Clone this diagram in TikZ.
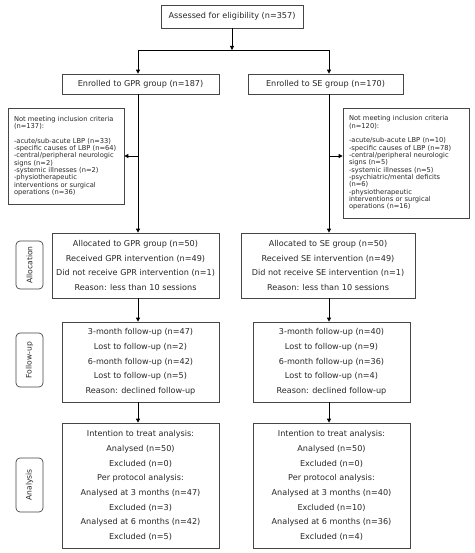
\documentclass[tikz,border=0pt]{standalone}
\usepackage{fontspec}
\setmainfont{DejaVu Sans}
\usetikzlibrary{arrows.meta}
\definecolor{ink}{RGB}{40,40,40}
\definecolor{edge}{RGB}{70,70,70}
\begin{document}
\begin{tikzpicture}[x=1pt,y=-1pt,
  box/.style={draw=edge,line width=0.7pt,rectangle,inner sep=0pt,align=center,text=ink,
     font=\fontsize{8.1}{14.7}\selectfont},
  exbox/.style={draw=edge,line width=0.7pt,rectangle,inner xsep=6pt,inner ysep=0pt,align=left,text=ink,
     font=\fontsize{6.7}{7.35}\selectfont},
  side/.style={draw=edge,line width=0.7pt,rounded corners=4pt,inner sep=0pt,minimum width=27pt,text=ink},
  sidetext/.style={rotate=90,text=ink,font=\fontsize{7.6}{8}\selectfont,inner sep=0pt},
  arr/.style={draw=black,line width=0.8pt,-{Triangle[length=4pt,width=4pt]}},
  ln/.style={draw=black,line width=0.8pt}]
\useasboundingbox (0,0) rectangle (474,553);
\fill[white] (0,0) rectangle (474,553);

\coordinate (colL) at (138,0);
\coordinate (colR) at (329,0);
\coordinate (split) at (232,50);
\coordinate (exY) at (0,156);

\node[box,minimum width=142pt,minimum height=23pt] (assess) at (232,16.5) {Assessed for eligibility (n=357)};
\node[box,minimum width=157pt,minimum height=20pt] (enrGPR) at (140.5,84) {Enrolled to GPR group (n=187)};
\node[box,minimum width=155pt,minimum height=20pt] (enrSE) at (325.5,84) {Enrolled to SE group (n=170)};

\node[exbox,text width=104pt,minimum height=96pt] (exL) at (66,156) {Not meeting inclusion criteria\\(n=137):\\[7.35pt]-acute/sub-acute LBP (n=33)\\-specific causes of LBP (n=64)\\-central/peripheral neurologic\\signs (n=2)\\-systemic illnesses (n=2)\\-physiotherapeutic\\interventions or surgical\\operations (n=36)\\[4pt]};
\node[exbox,text width=114pt,minimum height=110pt] (exR) at (406,163) {Not meeting inclusion criteria\\(n=120):\\[7.35pt]-acute/sub-acute LBP (n=10)\\-specific causes of LBP (n=78)\\-central/peripheral neurologic\\signs (n=5)\\-systemic illnesses (n=5)\\-psychiatric/mental deficits\\(n=6)\\-physiotherapeutic\\interventions or surgical\\operations (n=16)\\[4pt]};

\node[box,minimum width=167pt,minimum height=65pt] (alGPR) at (135.5,265.5) {Allocated to GPR group (n=50)\\Received GPR intervention (n=49)\\Did not receive GPR intervention (n=1)\\Reason: less than 10 sessions};
\node[box,minimum width=174pt,minimum height=65pt] (alSE) at (328,265.5) {Allocated to SE group (n=50)\\Received SE intervention (n=49)\\Did not receive SE intervention (n=1)\\Reason: less than 10 sessions};

\node[box,minimum width=157pt,minimum height=80pt] (fuGPR) at (140.5,362) {3-month follow-up (n=47)\\Lost to follow-up (n=2)\\6-month follow-up (n=42)\\Lost to follow-up (n=5)\\Reason: declined follow-up};
\node[box,minimum width=157pt,minimum height=80pt] (fuSE) at (331.5,362) {3-month follow-up (n=40)\\Lost to follow-up (n=9)\\6-month follow-up (n=36)\\Lost to follow-up (n=4)\\Reason: declined follow-up};

\node[box,minimum width=157pt,minimum height=125pt] (anGPR) at (140.5,485.5) {Intention to treat analysis:\\Analysed (n=50)\\Excluded (n=0)\\Per protocol analysis:\\Analysed at 3 months (n=47)\\Excluded (n=3)\\Analysed at 6 months (n=42)\\Excluded (n=5)};
\node[box,minimum width=157pt,minimum height=125pt] (anSE) at (331.5,485.5) {Intention to treat analysis:\\Analysed (n=50)\\Excluded (n=0)\\Per protocol analysis:\\Analysed at 3 months (n=40)\\Excluded (n=10)\\Analysed at 6 months (n=36)\\Excluded (n=4)};

\node[side,minimum height=48pt] (sAl) at (29.5,265) {};
\node[sidetext] (tAl) at (sAl.center) {Allocation};
\node[side,minimum height=54pt] (sFu) at (29.5,360) {};
\node[sidetext] (tFu) at (sFu.center) {Follow-up};
\node[side,minimum height=54pt] (sAn) at (29.5,485) {};
\node[sidetext] (tAn) at (sAn.center) {Analysis};

% connectors
\draw[arr] (assess.south) -- (split);
\draw[ln] (split -| colL) -- (split -| colR);
\draw[arr] (split -| colL) -- (enrGPR.north -| colL);
\draw[arr] (split -| colR) -- (enrSE.north -| colR);
\draw[arr] (enrGPR.south -| colL) -- (alGPR.north -| colL);
\draw[arr] (enrSE.south -| colR) -- (alSE.north -| colR);
\draw[arr] (exY -| colL) -- (exY -| exL.east);
\draw[arr] (exY -| colR) -- (exY -| exR.west);
\draw[arr] (alGPR.south -| colL) -- (fuGPR.north -| colL);
\draw[arr] (alSE.south -| colR) -- (fuSE.north -| colR);
\draw[arr] (fuGPR.south -| colL) -- (anGPR.north -| colL);
\draw[arr] (fuSE.south -| colR) -- (anSE.north -| colR);
\end{tikzpicture}
\end{document}
